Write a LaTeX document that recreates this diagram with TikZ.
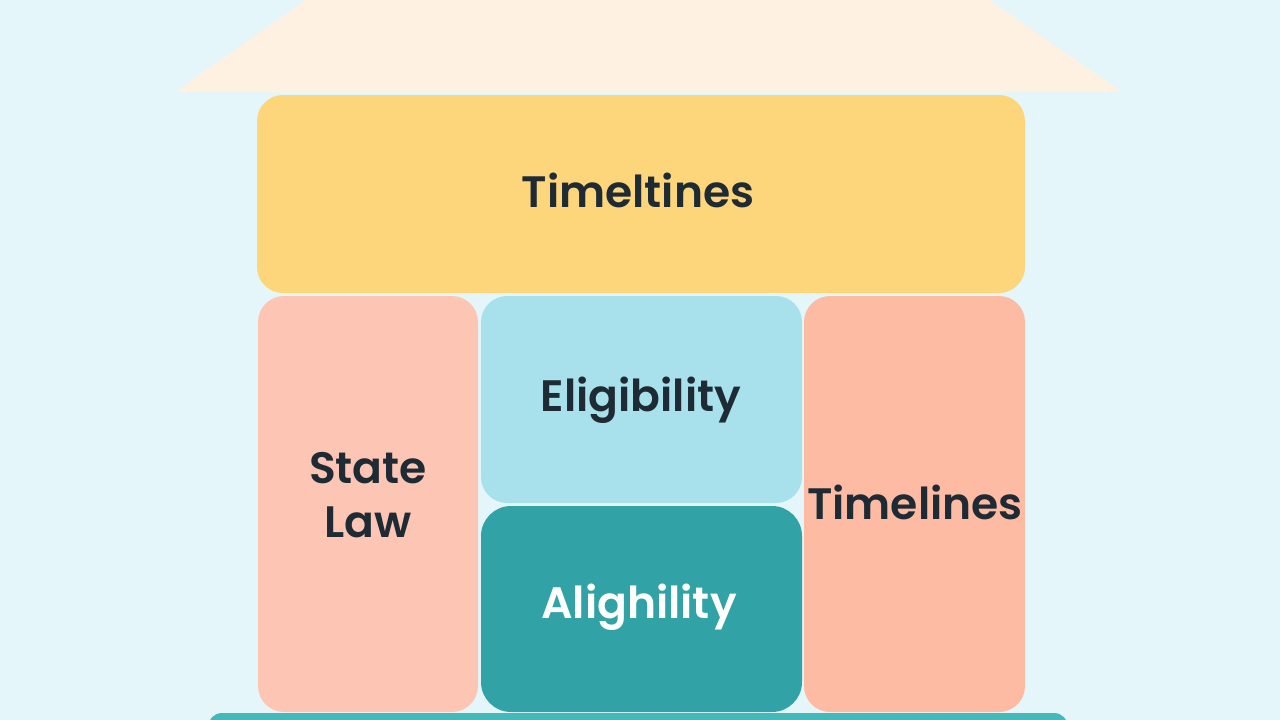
\documentclass[tikz,border=0pt]{standalone}
\usepackage{fontspec}
\setmainfont{Poppins}[UprightFont=* Medium, BoldFont=* SemiBold]
\definecolor{bgc}{HTML}{E5F6FB}
\definecolor{roofc}{HTML}{FEF1E2}
\definecolor{yellowc}{HTML}{FDD57A}
\definecolor{pinkl}{HTML}{FDC5B3}
\definecolor{pinkr}{HTML}{FCBBA2}
\definecolor{bluec}{HTML}{A8E1EB}
\definecolor{tealc}{HTML}{31A3A6}
\definecolor{barc}{HTML}{45B9B9}
\definecolor{textc}{HTML}{1E2B35}
\tikzset{
  block/.style={rectangle, rounded corners=26pt, draw=none, inner sep=0pt},
  lbl/.style={font=\fontsize{44}{54}\selectfont\bfseries, text=textc, align=center, inner sep=0pt},
}
\begin{document}
\begin{tikzpicture}[x=1pt,y=-1pt]
\useasboundingbox (0,0) rectangle (1280,720);
\clip (0,0) rectangle (1280,720);
\fill[bgc] (0,0) rectangle (1280,720);
% roof
\fill[roofc, rounded corners=3pt] (313,-5) -- (982,-5) -- (1122,92) -- (175,92) -- cycle;
% bottom bar
\node[block, fill=barc, minimum width=860pt, minimum height=60pt, rounded corners=14pt] (bar) at (638,743) {};
% blocks
\node[block, fill=yellowc, minimum width=768pt, minimum height=198pt] (top) at (641,194) {};
\node[block, fill=pinkl, minimum width=220pt, minimum height=416pt] (left) at (368,504) {};
\node[block, fill=bluec, minimum width=321pt, minimum height=207pt] (mid) at (641.5,399.5) {};
\node[block, fill=tealc, minimum width=321pt, minimum height=206pt, rounded corners=30pt] (low) at (641.5,609) {};
\node[block, fill=pinkr, minimum width=221pt, minimum height=416pt] (right) at (914.5,504) {};
% labels
\node[lbl] (t1) at (638,190) {Timeltines};
\node[lbl] (t2) at (641,400) {Eligibility};
\node[lbl] (t3) at (368,495) {State\\Law};
\node[lbl] (t4) at (915,502) {Timelines};
\node[lbl, text=white] (t5) at (639,607) {Alighility};
\end{tikzpicture}
\end{document}
